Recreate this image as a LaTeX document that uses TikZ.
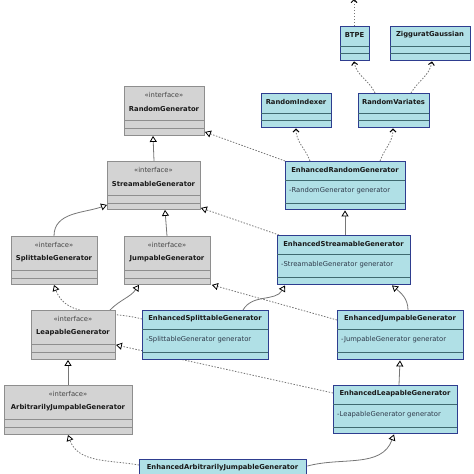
\documentclass[tikz,border=0pt]{standalone}
\usepackage{fontspec}
\setmainfont{DejaVu Sans}
\usetikzlibrary{arrows.meta}
\pgfdeclarelayer{background}
\pgfsetlayers{background,main}
\definecolor{gfill}{HTML}{D3D3D3}
\definecolor{gline}{HTML}{8E8E8E}
\definecolor{bfill}{HTML}{B0E0E6}
\definecolor{bline}{HTML}{2E3D8F}
\definecolor{bsepc}{HTML}{3F6A70}
\definecolor{conn}{HTML}{767676}
\definecolor{stertext}{HTML}{444444}
\definecolor{attrtext}{HTML}{2F3A4A}
\tikzset{
  gbox/.style={draw=gline, fill=gfill, line width=0.9pt, inner sep=0pt, anchor=north west},
  bbox/.style={draw=bline, fill=bfill, line width=1.4pt, inner sep=0pt, anchor=north west},
  ttl/.style={font=\fontsize{6.8}{8}\selectfont\bfseries, inner sep=0pt, text=black!90},
  ster/.style={font=\fontsize{6.8}{8}\selectfont, inner sep=0pt, text=stertext},
  attr/.style={font=\fontsize{6.8}{8}\selectfont, inner sep=0pt, anchor=west, text=attrtext},
  gsep/.style={draw=gline, line width=0.9pt},
  bsep/.style={draw=bsepc, line width=0.9pt},
  inh/.style={draw=conn, line width=0.8pt, -{Triangle[length=6pt,width=7pt,color=black,fill=white,line width=0.8pt]}},
  real/.style={inh, dash pattern=on 1.5pt off 1.5pt},
  dep/.style={draw=conn, line width=0.8pt, dash pattern=on 1.5pt off 1.5pt, -{Straight Barb[length=3pt,width=6pt,color=black,line width=1pt]}}
}
% grey interface box: name, x1, y1, x2, y2, title
\newcommand\gclass[6]{%
  \node[gbox, minimum width={(#4-#2)*1pt}, minimum height={(#5-#3)*1pt}] (#1) at (#2,#3) {};
  \draw[gsep] (#2,#3+34) -- (#4,#3+34);
  \draw[gsep] (#2,#3+42) -- (#4,#3+42);
  \node[ster] (#1-s) at ({(#2+#4)/2},#3+9) {«interface»};
  \node[ttl] (#1-t) at ({(#2+#4)/2},#3+23) {#6};
}
% blue class without attributes
\newcommand\bclass[6]{%
  \node[bbox, minimum width={(#4-#2)*1pt}, minimum height={(#5-#3)*1pt}] (#1) at (#2,#3) {};
  \draw[bsep] (#2,#3+20) -- (#4,#3+20);
  \draw[bsep] (#2,#3+27) -- (#4,#3+27);
  \node[ttl] (#1-t) at ({(#2+#4)/2},#3+9) {#6};
}
% blue class with one attribute
\newcommand\baclass[7]{%
  \node[bbox, minimum width={(#4-#2)*1pt}, minimum height={(#5-#3)*1pt}] (#1) at (#2,#3) {};
  \draw[bsep] (#2,#3+19) -- (#4,#3+19);
  \draw[bsep] (#2,#3+42) -- (#4,#3+42);
  \node[ttl] (#1-t) at ({(#2+#4)/2},#3+9) {#6};
  \node[attr] (#1-a) at (#2+4,#3+30) {#7};
}
\begin{document}
\begin{tikzpicture}[x=1pt,y=-1pt]
\useasboundingbox (0,0) rectangle (474,474);
\gclass{RG}{124}{86}{204}{135}{RandomGenerator}
\gclass{SG}{107}{161}{200}{209}{StreamableGenerator}
\gclass{SpG}{11}{236}{97}{284}{SplittableGenerator}
\gclass{JG}{124}{236}{210}{284}{JumpableGenerator}
\gclass{LG}{31}{310}{115}{359}{LeapableGenerator}
\gclass{AJG}{4}{385}{132}{434}{ArbitrarilyJumpableGenerator}
\bclass{BTPE}{340}{26}{369}{60}{BTPE}
\bclass{ZG}{390}{26}{470}{60}{ZigguratGaussian}
\bclass{RI}{261}{93}{331}{127}{RandomIndexer}
\bclass{RV}{358}{93}{429}{127}{RandomVariates}
\baclass{ERG}{285}{161}{405}{209}{EnhancedRandomGenerator}{-RandomGenerator generator}
\baclass{ESG}{277}{235}{410}{284}{EnhancedStreamableGenerator}{-StreamableGenerator generator}
\baclass{ESpG}{142}{310}{268}{359}{EnhancedSplittableGenerator}{-SplittableGenerator generator}
\baclass{EJG}{337}{310}{463}{359}{EnhancedJumpableGenerator}{-JumpableGenerator generator}
\baclass{ELG}{333}{385}{457}{433}{EnhancedLeapableGenerator}{-LeapableGenerator generator}
\baclass{EAJG}{139}{459}{306}{508}{EnhancedArbitrarilyJumpableGenerator}{}
\coordinate (btpeup) at (354,-1);
\begin{pgfonlayer}{background}
\draw[inh] ([xshift=47pt]SG.north west) -- ([xshift=29pt]RG.south west);
\draw[real] (ERG.north west) -- ([yshift=4pt]RG.south east);
\draw[dep] ([xshift=25pt]ERG.north west) to[out=110,in=-90] ([xshift=35pt]RI.south west);
\draw[dep] ([xshift=95pt]ERG.north west) to[out=70,in=-90] ([xshift=35pt]RV.south west);
\draw[dep] ([xshift=17pt]RV.north west) to[out=115,in=-80] ([xshift=14pt]BTPE.south west);
\draw[dep] ([xshift=53pt]RV.north west) to[out=60,in=-100] ([xshift=42pt]ZG.south west);
\draw[dep] ([xshift=14pt]BTPE.north west) -- (btpeup);
\draw[inh] ([xshift=43pt]SpG.north west) to[out=90,in=200] ([yshift=5pt]SG.south west);
\draw[inh] ([xshift=43pt]JG.north west) -- ([xshift=58pt]SG.south west);
\draw[real] ([xshift=2pt]ESG.north west) -- ([yshift=2pt]SG.south east);
\draw[inh] ([xshift=68pt]ESG.north west) -- ([xshift=60pt]ERG.south west);
\draw[real] ([yshift=-9pt]ESpG.north west) to[out=165,in=-70] ([xshift=43pt]SpG.south west);
\draw[inh] ([xshift=79pt]LG.north west) to[out=45,in=-125] ([xshift=15pt]JG.south west);
\draw[real] ([yshift=-10pt]EJG.north west) -- ([xshift=1pt]JG.south east);
\draw[inh] ([xshift=101pt]ESpG.north west) to[out=60,in=-120] ([xshift=8pt]ESG.south west);
\draw[inh] ([xshift=71pt]EJG.north west) to[out=90,in=-40] ([xshift=115pt]ESG.south west);
\draw[real] ([yshift=-8pt]ELG.north west) -- ([yshift=15pt]LG.south east);
\draw[inh] ([xshift=64pt]AJG.north west) -- ([xshift=37pt]LG.south west);
\draw[inh] ([xshift=66pt]ELG.north west) -- ([xshift=63pt]EJG.south west);
\draw[real] ([yshift=-6pt]EAJG.north west) to[out=170,in=-70] ([xshift=64pt]AJG.south west);
\draw[inh] ([yshift=-7pt]EAJG.north east) to[out=15,in=-110] ([xshift=61pt]ELG.south west);
\end{pgfonlayer}
\end{tikzpicture}
\end{document}
